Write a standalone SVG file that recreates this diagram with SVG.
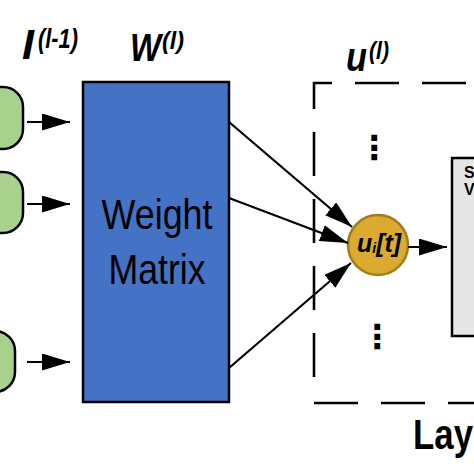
<svg xmlns="http://www.w3.org/2000/svg" width="474" height="474" viewBox="0 0 474 474">
<style>
.in{fill:#A9D18E;stroke:#000;stroke-width:2.5}
.lbl{font-family:"Liberation Sans",Arial,sans-serif;font-weight:bold;font-style:italic;fill:#000}
.wm{font-family:"Liberation Sans",Arial,sans-serif;font-size:43px;fill:#000;text-anchor:middle}
.con{stroke:#000;stroke-width:2.2;fill:none;marker-end:url(#ah)}
.dash{stroke:#000;stroke-width:2.6;fill:none;stroke-dasharray:44 23}
.dots{font-family:"DejaVu Sans",sans-serif;font-weight:bold;font-size:33px;text-anchor:middle;fill:#000}
.box{font-family:"Liberation Sans",Arial,sans-serif;font-weight:bold;font-size:16px;fill:#000}
</style>
<defs>
<marker id="ah" markerUnits="userSpaceOnUse" markerWidth="28" markerHeight="17" refX="28" refY="8.5" orient="auto">
<path d="M0,0 L28,8.5 L0,17 z" fill="#000"/>
</marker>
</defs>
<rect width="474" height="474" fill="#fff"/>
<g id="labels">
<text class="lbl" x="22" y="59" font-size="42" textLength="12" lengthAdjust="spacingAndGlyphs">I</text>
<text class="lbl" x="38" y="48" font-size="28" textLength="40" lengthAdjust="spacingAndGlyphs">(l-1)</text>
<text class="lbl" x="130" y="61" font-size="38" textLength="31" lengthAdjust="spacingAndGlyphs">W</text>
<text class="lbl" x="162" y="49" font-size="24" textLength="22" lengthAdjust="spacingAndGlyphs">(l)</text>
<text class="lbl" x="346" y="71" font-size="40" textLength="21" lengthAdjust="spacingAndGlyphs">u</text>
<text class="lbl" x="369" y="59" font-size="24" textLength="20" lengthAdjust="spacingAndGlyphs">(l)</text>
</g>
<g id="input1"><rect class="in" x="-40" y="87" width="63" height="62" rx="20"/></g>
<g id="input2"><rect class="in" x="-40" y="172" width="63" height="61" rx="20"/></g>
<g id="input3"><rect class="in" x="-48" y="331" width="63" height="61" rx="20"/></g>
<g id="weight-matrix">
<rect x="83" y="82" width="146" height="320" fill="#4472C4" stroke="#000" stroke-width="2.5"/>
<text class="wm" x="157" y="229" textLength="111" lengthAdjust="spacingAndGlyphs">Weight</text>
<text class="wm" x="157" y="284" textLength="97" lengthAdjust="spacingAndGlyphs">Matrix</text>
</g>
<g id="layer-box">
<path class="dash" d="M314,377 V83 H480"/>
<path class="dash" d="M314,403 H480"/>
<text class="dots" x="374" y="159">⋮</text>
<text class="dots" x="377" y="348">⋮</text>
</g>
<g id="neuron">
<circle cx="378" cy="245" r="30" fill="#DBAA2E" stroke="#A07D1C" stroke-width="2.5"/>
<text class="lbl" x="357" y="252" font-size="25">u<tspan font-size="14" dy="1">i</tspan><tspan dy="-1">[t]</tspan></text>
</g>
<g id="soma-box">
<rect x="452" y="158" width="40" height="178" fill="#E7E6E6" stroke="#000" stroke-width="2.5"/>
<text class="box" x="464" y="178">S</text>
<text class="box" x="464" y="195">V</text>
</g>
<g id="layer-label">
<text x="413" y="449" font-family="Liberation Sans,Arial,sans-serif" font-weight="bold" font-size="43" textLength="60" lengthAdjust="spacingAndGlyphs">Lay</text>
</g>
<g id="connectors">
<line class="con" x1="27" y1="122" x2="70" y2="122"/>
<line class="con" x1="27" y1="204" x2="70" y2="204"/>
<line class="con" x1="27" y1="362" x2="70" y2="362"/>
<line class="con" x1="229" y1="122" x2="352" y2="227"/>
<line class="con" x1="229" y1="198" x2="348" y2="243"/>
<line class="con" x1="229" y1="368" x2="351" y2="263"/>
<line class="con" x1="408" y1="247" x2="447" y2="247"/>
</g>
</svg>
